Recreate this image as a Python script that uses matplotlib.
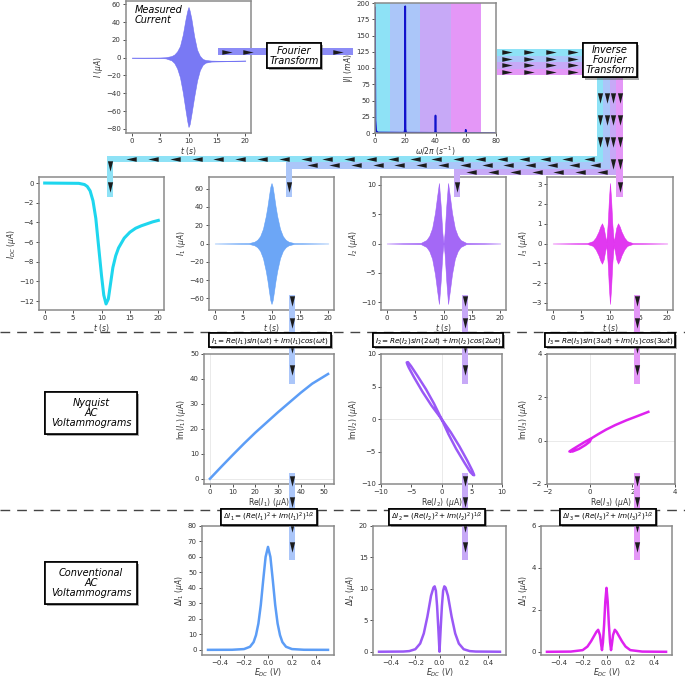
import numpy as np
import matplotlib.pyplot as plt
from matplotlib.patches import Rectangle
import matplotlib.patheffects as pe

plt.rcParams['font.family'] = 'DejaVu Sans'
plt.rcParams['mathtext.fontset'] = 'dejavusans'

W, H = 685, 680

# ---------------- data ----------------
# measured current envelope (uA)
t_meas = [0, 5, 6, 7, 7.5, 8, 8.5, 9, 9.5, 9.8, 10, 10.2, 10.5, 11, 11.5, 12, 12.5, 13, 14, 16, 18, 20]
meas_hi = [0, 0.2, 0.5, 1.8, 3.5, 7, 13, 26, 44, 53, 57, 53, 44, 24, 9, 2, -1.5, -2.6, -3.3, -3.6, -3.4, -3.1]
meas_lo = [0, -0.3, -0.8, -3, -6, -12, -22, -39, -60, -72, -78, -75, -64, -44, -26, -14, -8, -5.6, -4.4, -4.1, -3.8, -3.5]

# spectrum |I| (mA)
freq = [0, 0.3, 0.8, 2, 19.4, 19.8, 20, 20.2, 20.6, 39.5, 39.8, 40, 40.2, 40.5, 59.6, 59.8, 60, 60.2, 60.4, 80]
fft_mag = [193, 20, 3, 0.8, 0.5, 6, 195, 6, 0.5, 0.3, 3, 27, 3, 0.3, 0.2, 1.5, 5, 1.5, 0.2, 0]
band_edges = [0, 10, 30, 50, 70]

# dc component (uA)
t_dc = [0, 6, 7, 7.5, 8, 8.5, 9, 9.5, 10, 10.4, 10.8, 11.2, 11.6, 12, 12.5, 13, 14, 15, 16, 17, 18, 19, 20]
i_dc = [0, -0.03, -0.15, -0.35, -0.8, -1.8, -3.6, -6.5, -9.4, -11.4, -12.3, -11.8, -10.2, -8.6, -7.4, -6.6,
        -5.6, -5.0, -4.6, -4.35, -4.15, -3.95, -3.8]

# harmonic envelopes (uA)
t_h1 = [0, 6, 7, 7.5, 8, 8.5, 9, 9.3, 9.6, 9.8, 10, 10.2, 10.4, 10.7, 11, 11.5, 12, 12.5, 13, 14, 20]
env_h1 = [0, 0.4, 2, 4, 8, 16, 30, 41, 54, 62, 66, 62, 54, 41, 30, 16, 8, 4, 2, 0.4, 0]
t_h2 = [0, 6, 7, 7.5, 8, 8.5, 8.9, 9.2, 9.5, 9.8, 10, 10.2, 10.5, 10.8, 11.1, 11.5, 12, 12.5, 13, 14, 20]
env_h2 = [0, 0.1, 0.6, 1.3, 2.6, 5.2, 8.2, 10.3, 6.5, 1.8, 0, 1.8, 6.5, 10.3, 8.2, 5.2, 2.6, 1.3, 0.6, 0.1, 0]
t_h3 = [0, 6, 7, 7.5, 8, 8.3, 8.6, 8.9, 9.2, 9.35, 9.6, 9.8, 10, 10.2, 10.4, 10.65, 10.8, 11.1, 11.4,
        11.7, 12, 12.5, 13, 14, 20]
env_h3 = [0, 0.02, 0.12, 0.3, 0.6, 0.85, 1.02, 0.8, 0.3, 0.1, 1.0, 2.2, 3.05, 2.2, 1.0, 0.1, 0.3, 0.8,
          1.02, 0.85, 0.6, 0.3, 0.12, 0.02, 0]

# Nyquist plots (uA)
re1 = [0, 5, 10, 15, 20, 25, 30, 35, 40, 45, 52]
im1 = [0, 4.8, 9.5, 14.1, 18.5, 22.6, 26.7, 30.6, 34.5, 38.1, 42]
re2 = [0, -1.22, -2.56, -4.03, -5.06, -5.55, -5.75, -5.62, -5.42, -4.53, -3.14, -1.64, 0,
       1.15, 2.41, 3.79, 4.76, 5.22, 5.4, 5.28, 5.09, 4.26, 2.95, 1.54, 0]
im2 = [0, 2.33, 4.57, 6.72, 8.17, 8.75, 8.7, 8.35, 7.93, 6.40, 4.19, 2.05, 0,
       -2.33, -4.57, -6.72, -8.17, -8.6, -8.65, -8.35, -7.93, -6.40, -4.19, -2.05, 0]
re3 = [2.75, 2.2, 1.72, 1.2, 0.77, 0.4, 0.1, -0.2, -0.5, -0.8, -0.95, -0.8, -0.5, -0.2, 0.0, 0.05]
im3 = [1.33, 1.12, 0.94, 0.72, 0.51, 0.3, 0.12, -0.04, -0.22, -0.4, -0.5, -0.5, -0.38, -0.2, -0.05, 0.05]

# conventional AC voltammograms (uA vs V)
e1 = [-0.5, -0.3, -0.2, -0.15, -0.12, -0.1, -0.08, -0.06, -0.04, -0.02, 0, 0.02, 0.04, 0.06, 0.08, 0.1,
      0.12, 0.15, 0.2, 0.3, 0.5]
di1 = [0, 0.05, 0.5, 2.0, 5.0, 9.5, 17.0, 29.0, 45.0, 60.0, 66.5, 60.0, 45.0, 29.0, 17.0, 9.5, 5.0, 2.0,
       0.5, 0.05, 0]
e2 = [-0.5, -0.3, -0.25, -0.2, -0.16, -0.13, -0.1, -0.07, -0.05, -0.04, -0.03, -0.02, -0.01, 0, 0.01,
      0.02, 0.03, 0.04, 0.05, 0.07, 0.1, 0.13, 0.16, 0.2, 0.25, 0.3, 0.5]
di2 = [0, 0.03, 0.1, 0.4, 1.3, 2.9, 5.6, 8.9, 10.2, 10.4, 9.7, 7.3, 3.8, 0, 3.8, 7.3, 9.7, 10.4, 10.2,
       8.9, 5.6, 2.9, 1.3, 0.4, 0.1, 0.03, 0]
e3 = [-0.5, -0.3, -0.2, -0.16, -0.13, -0.1, -0.085, -0.07, -0.055, -0.045, -0.038, -0.03, -0.02, -0.01, 0,
      0.01, 0.02, 0.03, 0.038, 0.045, 0.055, 0.07, 0.085, 0.1, 0.13, 0.16, 0.2, 0.3, 0.5]
di3 = [0, 0.01, 0.08, 0.25, 0.5, 0.8, 0.95, 1.05, 0.8, 0.35, 0.08, 0.45, 1.3, 2.4, 3.05,
       2.4, 1.3, 0.45, 0.08, 0.35, 0.8, 1.05, 0.95, 0.8, 0.5, 0.25, 0.08, 0.01, 0]

# colours
col_meas = '#6a6af3'
col_dc, col1, col2, col3 = '#1ed6ee', '#5c9df6', '#9a58f6', '#de22ef'
bcol_meas = '#8c8cf6'
bcol = ['#8ee2f6', '#abc6f9', '#c7a9f7', '#e497f7']

fig = plt.figure(figsize=(W / 100, H / 100), dpi=100)


def px_axes(l, t, r, b):
    ax = fig.add_axes([l / W, 1 - b / H, (r - l) / W, (b - t) / H])
    for s in ax.spines.values():
        s.set_color('#8a8a8a')
        s.set_linewidth(1.1)
    ax.tick_params(labelsize=5, length=2.5, width=0.6, colors='#333333', pad=1.2)
    return ax


def labels(ax, xl, yl):
    ax.set_xlabel(xl, fontsize=5.5, labelpad=0.5, color='#333333')
    ax.set_ylabel(yl, fontsize=5.5, labelpad=1, color='#333333')


# ---- measured current ----
ax = px_axes(126, 1, 251, 133)
ax.fill_between(t_meas, meas_lo, meas_hi, color=col_meas, lw=0.4, alpha=0.9)
ax.set_xticks([0, 5, 10, 15, 20])
ax.set_yticks(range(-80, 61, 20))
labels(ax, r'$t\ (s)$', r'$I\ (\mu A)$')
ax.text(0.07, 0.97, 'Measured\nCurrent', transform=ax.transAxes, ha='left', va='top',
        fontsize=7, style='italic', linespacing=1.0)

# ---- spectrum ----
ax = px_axes(375, 3, 496, 133)
for i in range(4):
    ax.axvspan(band_edges[i], band_edges[i + 1], color=bcol[i], lw=0)
ax.plot(freq, fft_mag, color='#1212cc', lw=1.2)
ax.set_xlim(0, 80)
ax.set_ylim(0, 200)
ax.set_xticks([0, 20, 40, 60, 80])
ax.set_yticks(range(0, 201, 25))
labels(ax, r'$\omega/2\pi\ (s^{-1})$', r'$|I|\ (mA)$')

# ---- time-domain components ----
cols_x = [(39, 164), (209, 334), (381, 506), (547, 673)]
ax = px_axes(cols_x[0][0], 177, cols_x[0][1], 310)
ax.plot(t_dc, i_dc, color=col_dc, lw=2.2)
ax.set_xticks([0, 5, 10, 15, 20])
labels(ax, r'$t\ (s)$', r'$I_{DC}\ (\mu A)$')

harm = [(t_h1, env_h1, col1, r'$I_1\ (\mu A)$'),
        (t_h2, env_h2, col2, r'$I_2\ (\mu A)$'),
        (t_h3, env_h3, col3, r'$I_3\ (\mu A)$')]
for (tt, ee, c, yl), (l, r) in zip(harm, cols_x[1:]):
    ax = px_axes(l, 177, r, 310)
    ax.fill_between(tt, -np.array(ee), ee, color=c, lw=0.4, alpha=0.9)
    ax.set_xticks([0, 5, 10, 15, 20])
    labels(ax, r'$t\ (s)$', yl)

# ---- Nyquist ----
ax = px_axes(204, 354, 334, 484)
ax.axhline(0, color='#e6e6e6', lw=0.6, zorder=0)
ax.axvline(0, color='#e6e6e6', lw=0.6, zorder=0)
ax.plot(re1, im1, color=col1, lw=1.8)
ax.set_ylim(top=50)
ax.set_xticks(range(0, 51, 10))
ax.set_yticks(range(0, 51, 10))
labels(ax, r'Re($I_1$) ($\mu$A)', r'Im($I_1$) ($\mu$A)')

ax = px_axes(381, 354, 502, 484)
ax.axhline(0, color='#e6e6e6', lw=0.6, zorder=0)
ax.axvline(0, color='#e6e6e6', lw=0.6, zorder=0)
ax.plot(re2, im2, color=col2, lw=1.8)
ax.set_xlim(-10, 10)
ax.set_ylim(-10, 10)
ax.set_xticks([-10, -5, 0, 5, 10])
ax.set_yticks([-10, -5, 0, 5, 10])
labels(ax, r'Re($I_2$) ($\mu$A)', r'Im($I_2$) ($\mu$A)')

ax = px_axes(547, 354, 675, 484)
ax.axhline(0, color='#e6e6e6', lw=0.6, zorder=0)
ax.axvline(0, color='#e6e6e6', lw=0.6, zorder=0)
ax.plot(re3, im3, color=col3, lw=1.8)
ax.set_xlim(-2, 4)
ax.set_ylim(-2, 4)
ax.set_xticks([-2, 0, 2, 4])
ax.set_yticks([-2, 0, 2, 4])
labels(ax, r'Re($I_3$) ($\mu$A)', r'Im($I_3$) ($\mu$A)')

# ---- conventional ----
conv = [(e1, di1, col1, 80, range(0, 81, 10), r'$\Delta I_1\ (\mu A)$', (202, 334)),
        (e2, di2, col2, 20, range(0, 21, 5), r'$\Delta I_2\ (\mu A)$', (373, 506)),
        (e3, di3, col3, 6, range(0, 7, 2), r'$\Delta I_3\ (\mu A)$', (541, 672))]
for ee, dd, c, top, yt, yl, (l, r) in conv:
    ax = px_axes(l, 526, r, 655)
    ax.plot(ee, dd, color=c, lw=1.8)
    ax.set_ylim(top=top)
    ax.set_yticks(list(yt))
    ax.set_xticks([-0.4, -0.2, 0.0, 0.2, 0.4])
    labels(ax, r'$E_{DC}\ (V)$', yl)

# ---------------- overlay: arrows, boxes, separators ----------------
ov = fig.add_axes([0, 0, 1, 1], zorder=10)
ov.set_xlim(0, W)
ov.set_ylim(H, 0)
ov.axis('off')

TRI_R = [(-1, -0.45), (1, 0), (-1, 0.45), (-1, -0.45)]
TRI_L = [(1, -0.45), (-1, 0), (1, 0.45), (1, -0.45)]
TRI_D = [(-0.5, 1), (0.5, 1), (0, -1), (-0.5, 1)]


def band(x0, y0, x1, y1, c):
    ov.add_patch(Rectangle((x0, y0), x1 - x0, y1 - y0, facecolor=c, lw=0, zorder=2))


def tri(xs, ys, m):
    ov.plot(xs, ys, ls='none', marker=m, color='#1c1c1c', ms=7.5, mew=0, zorder=3)


def box(x, y, s, fs, pad=0.25):
    t = ov.text(x, y, s, ha='center', va='center', fontsize=fs, style='italic', linespacing=1.0,
                zorder=6, bbox=dict(boxstyle='square,pad=%g' % pad, fc='white', ec='black', lw=1.2))
    t.get_bbox_patch().set_path_effects([
        pe.withSimplePatchShadow(offset=(1.5, -1.5), shadow_rgbFace='#555555', alpha=0.5), pe.Normal()])


# separators
for yy in (332, 510):
    ov.plot([0, W], [yy, yy], color='#444444', lw=1.0, ls=(0, (7, 5)), zorder=1)

# measured -> Fourier
band(218, 48, 353, 55, bcol_meas)
tri([227, 248, 338], [51.5] * 3, TRI_R)

# Fourier -> inverse (4 stacked bands)
for i in range(4):
    y0 = 49 + 6.5 * i
    band(497, y0, 600, y0 + 6.5, bcol[i])
    tri([507, 529, 551, 573], [y0 + 3.25] * 4, TRI_R)

# vertical from inverse box, then each band turns left
xv = [597 + 6.5 * i for i in range(4)]
turn_y = [156, 162.3, 168.6, None]
drop_x = [107, 286, 454, None]
for i in range(4):
    x0 = xv[i]
    if turn_y[i] is None:
        band(x0, 78, x0 + 6.5, 197, bcol[i])
        tri([x0 + 3.25] * 5, [98, 120, 142, 164, 187], TRI_D)
        continue
    band(x0, 78, x0 + 6.5, turn_y[i] + 6.3, bcol[i])
    band(drop_x[i], turn_y[i], x0 + 6.5, turn_y[i] + 6.3, bcol[i])
    band(drop_x[i], turn_y[i], drop_x[i] + 6.5, 197, bcol[i])
    vys = [98, 120, 142] + ([164] if i == 2 else [])
    tri([x0 + 3.25] * len(vys), vys, TRI_D)
    xs = np.arange(x0 - 8, drop_x[i] + 14, -21.8)
    tri(xs, [turn_y[i] + 3.15] * len(xs), TRI_L)
    tri([drop_x[i] + 3.25], [187], TRI_D)
tri([110.25], [166], TRI_D)

# component -> Nyquist -> conventional
down_x = [(289, col1, bcol[1]), (462, col2, bcol[2]), (634, col3, bcol[3])]
for x0, c, bc in down_x:
    band(x0, 295, x0 + 6.5, 384, bc)
    tri([x0 + 3.25] * 4, [301, 323, 348, 370], TRI_D)
    band(x0, 473, x0 + 6.5, 560, bc)
    tri([x0 + 3.25] * 4, [481, 502, 527, 547], TRI_D)

# boxes
box(294, 55.5, 'Fourier\nTransform', 7)
box(610, 60, 'Inverse\nFourier\nTransform', 7)
box(91, 413, 'Nyquist\nAC\nVoltammograms', 7, pad=0.6)
box(91, 583, 'Conventional\nAC\nVoltammograms', 7, pad=0.6)

box(270, 340, r'$I_1 = Re(I_1)sin(\omega t) + Im(I_1)cos(\omega t)$', 5.2)
box(438, 340, r'$I_2 = Re(I_2)sin(2\omega t) + Im(I_2)cos(2\omega t)$', 5.2)
box(610, 340, r'$I_3 = Re(I_3)sin(3\omega t) + Im(I_3)cos(3\omega t)$', 5.2)
box(269, 517, r'$\Delta I_1 = (Re(I_1)^2 + Im(I_1)^2)^{1/2}$', 5.2)
box(437, 517, r'$\Delta I_2 = (Re(I_2)^2 + Im(I_2)^2)^{1/2}$', 5.2)
box(608, 517, r'$\Delta I_3 = (Re(I_3)^2 + Im(I_3)^2)^{1/2}$', 5.2)

fig.savefig('out.png', dpi=100)
